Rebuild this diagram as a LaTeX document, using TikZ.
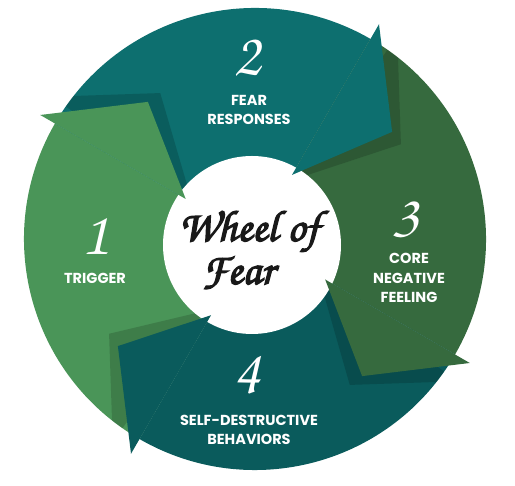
\documentclass[tikz,border=0pt]{standalone}
\usepackage{fontspec}
\setmainfont{Poppins}
\newfontface\numface{texgyrechorus-mediumitalic.otf}
\newfontface\hubface{texgyrechorus-mediumitalic.otf}[FakeBold=3]
\usetikzlibrary{calc}

\definecolor{segA}{HTML}{4A9558}
\definecolor{segB}{HTML}{0D6F6F}
\definecolor{segC}{HTML}{366A3E}
\definecolor{segD}{HTML}{0A5B5C}

\begin{document}
\begin{tikzpicture}[
    x=1pt, y=1pt,
    lbl/.style={
      text=white,
      align=center,
      font=\bfseries\fontsize{14.5}{19.5}\selectfont
    },
    num/.style={text=white, font=\numface\fontsize{62}{62}\selectfont},
    hub/.style={text=black!90, align=center, font=\hubface\fontsize{44}{43}\selectfont}
  ]
    \useasboundingbox (0,0) rectangle (515,486);
    \coordinate (O) at (255,247);
    \coordinate (I) at (252,241);

    % ring pieces
    \foreach \c/\a/\b in {segA/240/150, segB/150/60, segC/60/-30, segD/-30/-120}
      \fill[\c] (O) -- ($(O)+(\a:231)$) arc[start angle=\a, end angle=\b, radius=231] -- cycle;

    % shadows under the heads
    \begin{scope}
      \clip (O) circle (231);
      \foreach \a/\r in {150/80, 60/74, -30/81, -120/88}
        \fill[black, opacity=.16] ($(O)+(\a-5:248)$) -- ($(O)+(\a-27:174)$) -- ($(O)+(\a-5:\r)$) -- cycle;
    \end{scope}

    \fill[white] (I) circle (89);

    % arrow heads
    \foreach \c/\a/\r in {segA/150/80, segB/60/74, segC/-30/81, segD/-120/88}
      \fill[\c] ($(O)+(\a:248)$) -- ($(O)+(\a-22:174)$) -- ($(O)+(\a:\r)$) -- cycle;

    \node[num] (n1) at (95,250) {1};
    \node[lbl] (trigger) at (95,208) {TRIGGER};
    \node[num] (n2) at (247,428) {2};
    \node[lbl] (fear) at (249,376) {FEAR\\RESPONSES};
    \node[num] (n3) at (405,266) {3};
    \node[lbl] (core) at (409,208) {CORE\\NEGATIVE\\FEELING};
    \node[num] (n4) at (247,111) {4};
    \node[lbl] (self) at (249,56) {SELF-DESTRUCTIVE\\BEHAVIORS};

    \node[hub] (wheel) at (249,236) {Wheel of\\Fear\hspace*{22pt}};
  \end{tikzpicture}
\end{document}
